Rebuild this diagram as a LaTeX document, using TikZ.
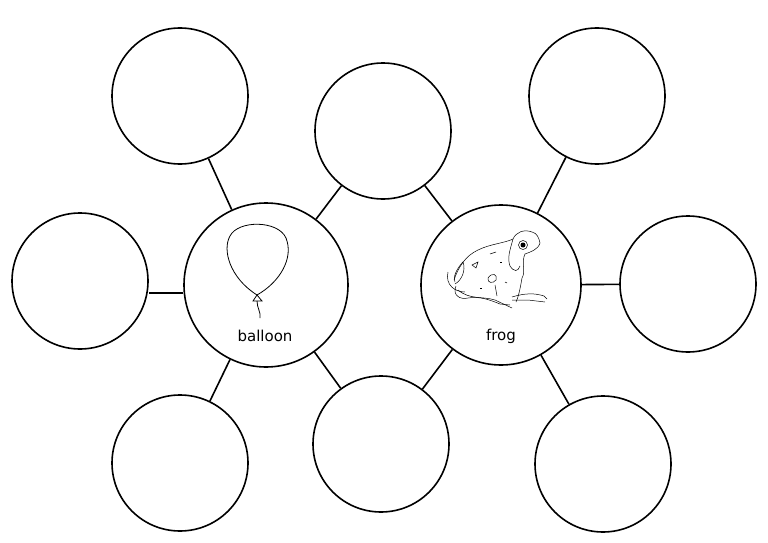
\documentclass[tikz,border=0pt]{standalone}
\usepackage{fontspec}
\setmainfont{DejaVu Sans}
\begin{document}
\begin{tikzpicture}[x=1pt,y=-1pt,
  bub/.style={draw,circle,line width=1.6pt,minimum size=#1*2pt,inner sep=0pt},
  con/.style={line width=1.6pt},
  sk/.style={line width=0.5pt}]
\useasboundingbox (0,0) rectangle (768,543);
\node[bub=82] (b) at (266,285) {};
\node[bub=80] (f) at (501,285) {};
\node[bub=68] (tl) at (180,96) {};
\node[bub=68] (tm) at (383,131) {};
\node[bub=68] (tr) at (597,96) {};
\node[bub=68] (l) at (80,281) {};
\node[bub=68] (r) at (688,284) {};
\node[bub=68] (bl) at (180,463) {};
\node[bub=68] (bm) at (381,444) {};
\node[bub=68] (br) at (603,464) {};
\draw[con] (b) -- (tl); \draw[con] (b) -- (tm); \draw[con] (b) -- (bm);
\draw[con] (b) -- (bl); \draw[con] (l.east |- 0,293) -- (b.west |- 0,293);
\draw[con] (f) -- (tm); \draw[con] (f) -- (bm); \draw[con] (f) -- (tr);
\draw[con] (f) -- (br); \draw[con] (f) -- (r);
\node[font=\fontsize{15}{17}\selectfont] (bt) at (265,336) {balloon};
\node[font=\fontsize{15}{17}\selectfont] (ft) at (501,336) {frog};
% balloon
\draw[sk,line width=0.8pt] (257,295) .. controls (230,278) and (222,250) .. (230,236)
  .. controls (238,220) and (278,220) .. (286,238)
  .. controls (294,258) and (280,282) .. (257,295);
\draw[sk,line width=0.8pt] (257,295) -- (253,301) -- (262,301) -- cycle;
\draw[sk,line width=0.8pt] (257,301) .. controls (257,308) and (261,312) .. (260,318);
% frog sketch
\draw[sk] (513,239) .. controls (516,232) and (524,229) .. (532,232)
  .. controls (537,233) and (539,238) .. (540,243) .. controls (538,250) and (530,252) .. (525,254)
  .. controls (521,262) and (526,272) .. (522,278) .. controls (520,290) and (518,298) .. (516,302);
\draw[sk] (513,239) .. controls (505,243) and (490,244) .. (478,250)
  .. controls (465,256) and (458,268) .. (454,280);
\draw[sk] (513,239) .. controls (510,250) and (507,258) .. (510,266) .. controls (514,272) and (518,272) .. (520,266);
\filldraw[sk,fill=white] (523,245) circle (4.5);
\fill (523,245) circle (2.5);
\draw[sk] (455,282) .. controls (452,275) and (460,265) .. (463,262) .. controls (466,270) and (462,280) .. (455,284);
\draw[sk] (456,286) .. controls (452,295) and (460,300) .. (468,298) .. controls (480,296) and (490,300) .. (500,304)
  -- (510,305);
\draw[sk] (458,290) .. controls (470,300) and (482,296) .. (495,300) -- (512,308);
\draw[sk] (448,272) .. controls (445,285) and (455,292) .. (465,292);
\draw[sk] (512,297) .. controls (525,293) and (535,293) .. (544,296) -- (547,299);
\draw[sk] (512,300) -- (528,300) -- (545,302);
\draw[sk] (472,265) -- (478,262) -- (476,268) -- cycle;
\draw[sk] (488,278) .. controls (492,272) and (498,274) .. (496,280) .. controls (493,284) and (487,283) .. (488,278);
\draw[sk] (490,254) -- (496,252); \draw[sk] (500,262) -- (502,262);
\draw[sk] (480,288) -- (482,288); \draw[sk] (505,282) -- (507,283);
\draw[sk] (495,285) -- (497,296);
\end{tikzpicture}
\end{document}
